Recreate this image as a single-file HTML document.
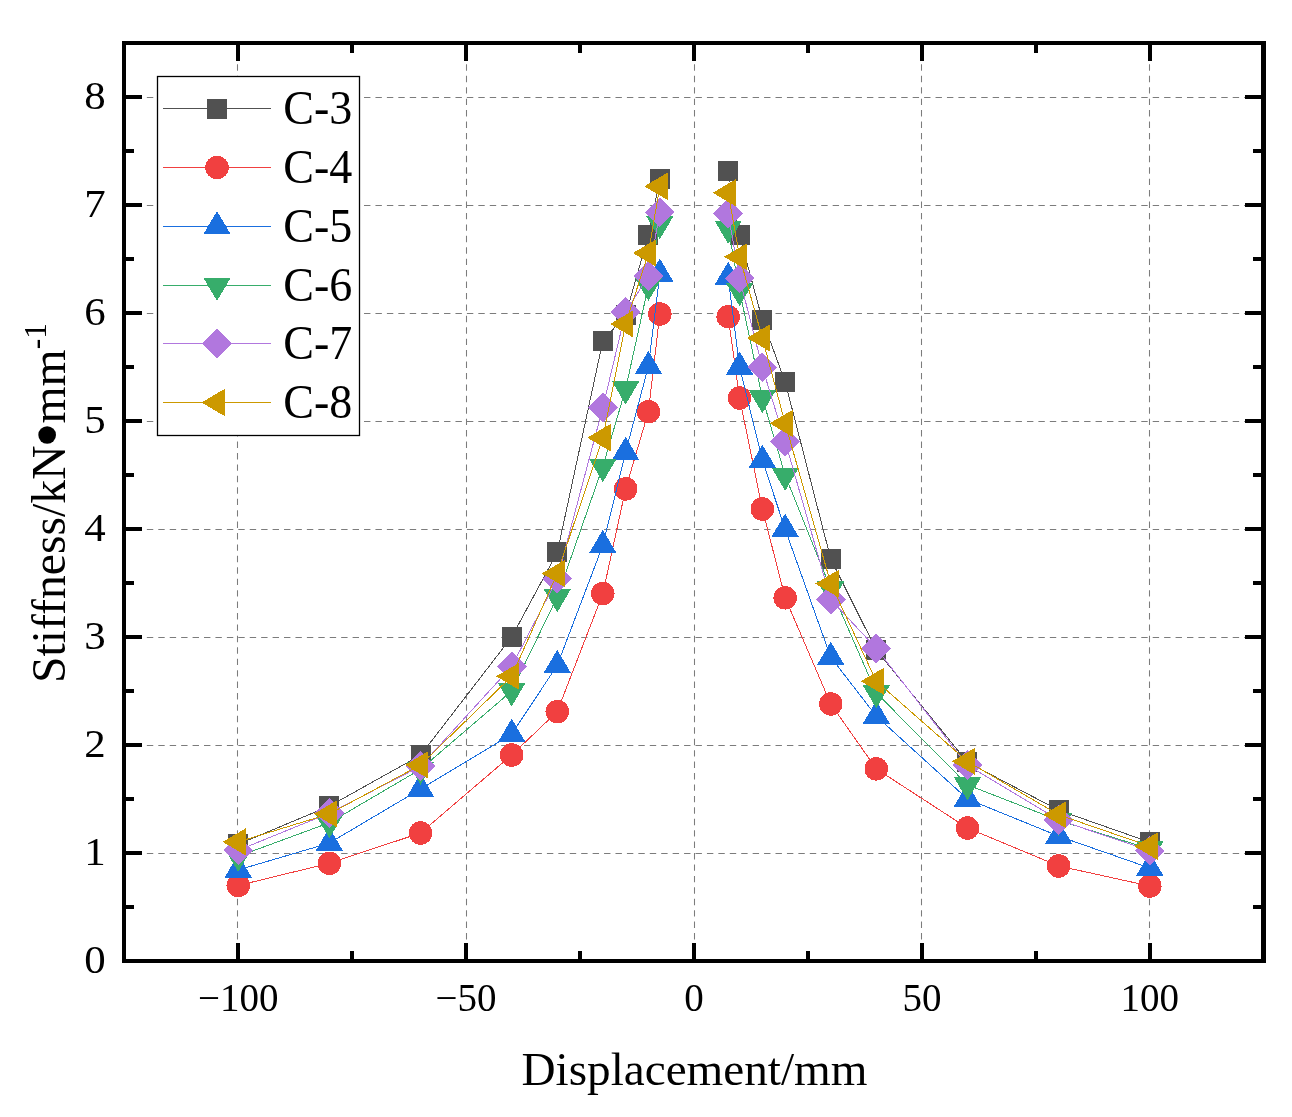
<!DOCTYPE html>
<html><head><meta charset="utf-8"><title>Stiffness vs Displacement</title>
<style>html,body{margin:0;padding:0;background:#fff;}body{width:1292px;height:1117px;overflow:hidden;}svg{display:block;}text{font-family:"Liberation Serif","Times New Roman",serif;fill:#000;}</style>
</head><body>
<svg width="1292" height="1117" viewBox="0 0 1292 1117">
<rect x="0" y="0" width="1292" height="1117" fill="#fff"/>
<path d="M237.5 41.5V961 M466.5 41.5V961 M694.5 41.5V961 M921.5 41.5V961 M1149.5 41.5V961 M124 853.5H1263.5 M124 745.5H1263.5 M124 637.5H1263.5 M124 529.5H1263.5 M124 421.5H1263.5 M124 313.5H1263.5 M124 205.5H1263.5 M124 97.5H1263.5" stroke="#7c7c7c" stroke-width="1.05" stroke-dasharray="6.4 5.03" fill="none"/>
<polyline points="238.2,844.25 329.36,806.13 420.52,755.26 511.68,637 557.26,552.44 602.84,340.97 625.63,315.05 648.42,235.35 659.82,178.97" fill="none" stroke="#515151" stroke-width="1" stroke-linejoin="round" shape-rendering="crispEdges"/>
<polyline points="728.18,171.41 739.58,235.35 762.37,319.91 785.16,381.9 830.74,558.92 876.32,649.96 967.48,762.28 1058.64,810.23 1149.8,842.2" fill="none" stroke="#515151" stroke-width="1" stroke-linejoin="round" shape-rendering="crispEdges"/>
<rect x="228.2" y="834.25" width="20" height="20" fill="#515151" shape-rendering="crispEdges"/>
<rect x="319.36" y="796.13" width="20" height="20" fill="#515151" shape-rendering="crispEdges"/>
<rect x="410.52" y="745.26" width="20" height="20" fill="#515151" shape-rendering="crispEdges"/>
<rect x="501.68" y="627" width="20" height="20" fill="#515151" shape-rendering="crispEdges"/>
<rect x="547.26" y="542.44" width="20" height="20" fill="#515151" shape-rendering="crispEdges"/>
<rect x="592.84" y="330.97" width="20" height="20" fill="#515151" shape-rendering="crispEdges"/>
<rect x="615.63" y="305.05" width="20" height="20" fill="#515151" shape-rendering="crispEdges"/>
<rect x="638.42" y="225.35" width="20" height="20" fill="#515151" shape-rendering="crispEdges"/>
<rect x="649.82" y="168.97" width="20" height="20" fill="#515151" shape-rendering="crispEdges"/>
<rect x="718.18" y="161.41" width="20" height="20" fill="#515151" shape-rendering="crispEdges"/>
<rect x="729.58" y="225.35" width="20" height="20" fill="#515151" shape-rendering="crispEdges"/>
<rect x="752.37" y="309.91" width="20" height="20" fill="#515151" shape-rendering="crispEdges"/>
<rect x="775.16" y="371.9" width="20" height="20" fill="#515151" shape-rendering="crispEdges"/>
<rect x="820.74" y="548.92" width="20" height="20" fill="#515151" shape-rendering="crispEdges"/>
<rect x="866.32" y="639.96" width="20" height="20" fill="#515151" shape-rendering="crispEdges"/>
<rect x="957.48" y="752.28" width="20" height="20" fill="#515151" shape-rendering="crispEdges"/>
<rect x="1048.64" y="800.23" width="20" height="20" fill="#515151" shape-rendering="crispEdges"/>
<rect x="1139.8" y="832.2" width="20" height="20" fill="#515151" shape-rendering="crispEdges"/>
<polyline points="238.2,885.51 329.36,863.26 420.52,833.02 511.68,755.04 557.26,711.63 602.84,593.58 625.63,488.93 648.42,411.71 659.82,313.97" fill="none" stroke="#F14040" stroke-width="1" stroke-linejoin="round" shape-rendering="crispEdges"/>
<polyline points="728.18,316.67 739.58,398 762.37,509.02 785.16,597.8 830.74,703.96 876.32,768.87 967.48,828.05 1058.64,865.96 1149.8,886.05" fill="none" stroke="#F14040" stroke-width="1" stroke-linejoin="round" shape-rendering="crispEdges"/>
<circle cx="238.2" cy="885.51" r="11.75" fill="#F14040" shape-rendering="crispEdges"/>
<circle cx="329.36" cy="863.26" r="11.75" fill="#F14040" shape-rendering="crispEdges"/>
<circle cx="420.52" cy="833.02" r="11.75" fill="#F14040" shape-rendering="crispEdges"/>
<circle cx="511.68" cy="755.04" r="11.75" fill="#F14040" shape-rendering="crispEdges"/>
<circle cx="557.26" cy="711.63" r="11.75" fill="#F14040" shape-rendering="crispEdges"/>
<circle cx="602.84" cy="593.58" r="11.75" fill="#F14040" shape-rendering="crispEdges"/>
<circle cx="625.63" cy="488.93" r="11.75" fill="#F14040" shape-rendering="crispEdges"/>
<circle cx="648.42" cy="411.71" r="11.75" fill="#F14040" shape-rendering="crispEdges"/>
<circle cx="659.82" cy="313.97" r="11.75" fill="#F14040" shape-rendering="crispEdges"/>
<circle cx="728.18" cy="316.67" r="11.75" fill="#F14040" shape-rendering="crispEdges"/>
<circle cx="739.58" cy="398" r="11.75" fill="#F14040" shape-rendering="crispEdges"/>
<circle cx="762.37" cy="509.02" r="11.75" fill="#F14040" shape-rendering="crispEdges"/>
<circle cx="785.16" cy="597.8" r="11.75" fill="#F14040" shape-rendering="crispEdges"/>
<circle cx="830.74" cy="703.96" r="11.75" fill="#F14040" shape-rendering="crispEdges"/>
<circle cx="876.32" cy="768.87" r="11.75" fill="#F14040" shape-rendering="crispEdges"/>
<circle cx="967.48" cy="828.05" r="11.75" fill="#F14040" shape-rendering="crispEdges"/>
<circle cx="1058.64" cy="865.96" r="11.75" fill="#F14040" shape-rendering="crispEdges"/>
<circle cx="1149.8" cy="886.05" r="11.75" fill="#F14040" shape-rendering="crispEdges"/>
<polyline points="238.2,869.96 329.36,843.06 420.52,789.06 511.68,734.2 557.26,665.3 602.84,545.31 625.63,452.21 648.42,366.24 659.82,274.01" fill="none" stroke="#1A6FDF" stroke-width="1" stroke-linejoin="round" shape-rendering="crispEdges"/>
<polyline points="728.18,277.25 739.58,367 762.37,460.1 785.16,529.22 830.74,657.2 876.32,716.16 967.48,799 1058.64,836.15 1149.8,868.01" fill="none" stroke="#1A6FDF" stroke-width="1" stroke-linejoin="round" shape-rendering="crispEdges"/>
<polygon points="238.2,854.42 251.9,877.72 224.5,877.72" fill="#1A6FDF" shape-rendering="crispEdges"/>
<polygon points="329.36,827.53 343.06,850.83 315.66,850.83" fill="#1A6FDF" shape-rendering="crispEdges"/>
<polygon points="420.52,773.53 434.22,796.83 406.82,796.83" fill="#1A6FDF" shape-rendering="crispEdges"/>
<polygon points="511.68,718.67 525.38,741.97 497.98,741.97" fill="#1A6FDF" shape-rendering="crispEdges"/>
<polygon points="557.26,649.76 570.96,673.06 543.56,673.06" fill="#1A6FDF" shape-rendering="crispEdges"/>
<polygon points="602.84,529.77 616.54,553.07 589.14,553.07" fill="#1A6FDF" shape-rendering="crispEdges"/>
<polygon points="625.63,436.68 639.33,459.98 611.93,459.98" fill="#1A6FDF" shape-rendering="crispEdges"/>
<polygon points="648.42,350.71 662.12,374.01 634.72,374.01" fill="#1A6FDF" shape-rendering="crispEdges"/>
<polygon points="659.82,258.48 673.52,281.78 646.12,281.78" fill="#1A6FDF" shape-rendering="crispEdges"/>
<polygon points="728.18,261.72 741.88,285.02 714.48,285.02" fill="#1A6FDF" shape-rendering="crispEdges"/>
<polygon points="739.58,351.47 753.28,374.77 725.88,374.77" fill="#1A6FDF" shape-rendering="crispEdges"/>
<polygon points="762.37,444.56 776.07,467.86 748.67,467.86" fill="#1A6FDF" shape-rendering="crispEdges"/>
<polygon points="785.16,513.68 798.86,536.98 771.46,536.98" fill="#1A6FDF" shape-rendering="crispEdges"/>
<polygon points="830.74,641.66 844.44,664.96 817.04,664.96" fill="#1A6FDF" shape-rendering="crispEdges"/>
<polygon points="876.32,700.63 890.02,723.93 862.62,723.93" fill="#1A6FDF" shape-rendering="crispEdges"/>
<polygon points="967.48,783.47 981.18,806.77 953.78,806.77" fill="#1A6FDF" shape-rendering="crispEdges"/>
<polygon points="1058.64,820.62 1072.34,843.92 1044.94,843.92" fill="#1A6FDF" shape-rendering="crispEdges"/>
<polygon points="1149.8,852.48 1163.5,875.78 1136.1,875.78" fill="#1A6FDF" shape-rendering="crispEdges"/>
<polyline points="238.2,856.35 329.36,822.76 420.52,769.3 511.68,691 557.26,596.82 602.84,466.58 625.63,389.03 648.42,285.46 659.82,223.79" fill="none" stroke="#37AD6B" stroke-width="1" stroke-linejoin="round" shape-rendering="crispEdges"/>
<polyline points="728.18,228.33 739.58,290.64 762.37,397.78 785.16,475.32 830.74,588.83 876.32,692.84 967.48,784.85 1058.64,820.38 1149.8,848.9" fill="none" stroke="#37AD6B" stroke-width="1" stroke-linejoin="round" shape-rendering="crispEdges"/>
<polygon points="224.5,848.58 251.9,848.58 238.2,871.88" fill="#37AD6B" shape-rendering="crispEdges"/>
<polygon points="315.66,814.99 343.06,814.99 329.36,838.29" fill="#37AD6B" shape-rendering="crispEdges"/>
<polygon points="406.82,761.53 434.22,761.53 420.52,784.83" fill="#37AD6B" shape-rendering="crispEdges"/>
<polygon points="497.98,683.23 525.38,683.23 511.68,706.53" fill="#37AD6B" shape-rendering="crispEdges"/>
<polygon points="543.56,589.06 570.96,589.06 557.26,612.36" fill="#37AD6B" shape-rendering="crispEdges"/>
<polygon points="589.14,458.81 616.54,458.81 602.84,482.11" fill="#37AD6B" shape-rendering="crispEdges"/>
<polygon points="611.93,381.27 639.33,381.27 625.63,404.57" fill="#37AD6B" shape-rendering="crispEdges"/>
<polygon points="634.72,277.69 662.12,277.69 648.42,300.99" fill="#37AD6B" shape-rendering="crispEdges"/>
<polygon points="646.12,216.03 673.52,216.03 659.82,239.33" fill="#37AD6B" shape-rendering="crispEdges"/>
<polygon points="714.48,220.56 741.88,220.56 728.18,243.86" fill="#37AD6B" shape-rendering="crispEdges"/>
<polygon points="725.88,282.88 753.28,282.88 739.58,306.18" fill="#37AD6B" shape-rendering="crispEdges"/>
<polygon points="748.67,390.01 776.07,390.01 762.37,413.31" fill="#37AD6B" shape-rendering="crispEdges"/>
<polygon points="771.46,467.56 798.86,467.56 785.16,490.86" fill="#37AD6B" shape-rendering="crispEdges"/>
<polygon points="817.04,581.07 844.44,581.07 830.74,604.37" fill="#37AD6B" shape-rendering="crispEdges"/>
<polygon points="862.62,685.07 890.02,685.07 876.32,708.37" fill="#37AD6B" shape-rendering="crispEdges"/>
<polygon points="953.78,777.09 981.18,777.09 967.48,800.39" fill="#37AD6B" shape-rendering="crispEdges"/>
<polygon points="1044.94,812.62 1072.34,812.62 1058.64,835.92" fill="#37AD6B" shape-rendering="crispEdges"/>
<polygon points="1136.1,841.13 1163.5,841.13 1149.8,864.43" fill="#37AD6B" shape-rendering="crispEdges"/>
<polyline points="238.2,850.3 329.36,813.15 420.52,766.28 511.68,666.48 557.26,578.79 602.84,407.61 625.63,311.92 648.42,276.17 659.82,212.13" fill="none" stroke="#B177DE" stroke-width="1" stroke-linejoin="round" shape-rendering="crispEdges"/>
<polyline points="728.18,213.42 739.58,278.44 762.37,367.43 785.16,441.41 830.74,599.52 876.32,648.45 967.48,765.2 1058.64,819.84 1149.8,850.84" fill="none" stroke="#B177DE" stroke-width="1" stroke-linejoin="round" shape-rendering="crispEdges"/>
<polygon points="238.2,835.4 253.1,850.3 238.2,865.2 223.3,850.3" fill="#B177DE" shape-rendering="crispEdges"/>
<polygon points="329.36,798.25 344.26,813.15 329.36,828.05 314.46,813.15" fill="#B177DE" shape-rendering="crispEdges"/>
<polygon points="420.52,751.38 435.42,766.28 420.52,781.18 405.62,766.28" fill="#B177DE" shape-rendering="crispEdges"/>
<polygon points="511.68,651.58 526.58,666.48 511.68,681.38 496.78,666.48" fill="#B177DE" shape-rendering="crispEdges"/>
<polygon points="557.26,563.89 572.16,578.79 557.26,593.69 542.36,578.79" fill="#B177DE" shape-rendering="crispEdges"/>
<polygon points="602.84,392.71 617.74,407.61 602.84,422.51 587.94,407.61" fill="#B177DE" shape-rendering="crispEdges"/>
<polygon points="625.63,297.02 640.53,311.92 625.63,326.82 610.73,311.92" fill="#B177DE" shape-rendering="crispEdges"/>
<polygon points="648.42,261.27 663.32,276.17 648.42,291.07 633.52,276.17" fill="#B177DE" shape-rendering="crispEdges"/>
<polygon points="659.82,197.23 674.72,212.13 659.82,227.03 644.92,212.13" fill="#B177DE" shape-rendering="crispEdges"/>
<polygon points="728.18,198.52 743.08,213.42 728.18,228.32 713.28,213.42" fill="#B177DE" shape-rendering="crispEdges"/>
<polygon points="739.58,263.54 754.48,278.44 739.58,293.34 724.68,278.44" fill="#B177DE" shape-rendering="crispEdges"/>
<polygon points="762.37,352.53 777.27,367.43 762.37,382.33 747.47,367.43" fill="#B177DE" shape-rendering="crispEdges"/>
<polygon points="785.16,426.51 800.06,441.41 785.16,456.31 770.26,441.41" fill="#B177DE" shape-rendering="crispEdges"/>
<polygon points="830.74,584.62 845.64,599.52 830.74,614.42 815.84,599.52" fill="#B177DE" shape-rendering="crispEdges"/>
<polygon points="876.32,633.55 891.22,648.45 876.32,663.35 861.42,648.45" fill="#B177DE" shape-rendering="crispEdges"/>
<polygon points="967.48,750.3 982.38,765.2 967.48,780.1 952.58,765.2" fill="#B177DE" shape-rendering="crispEdges"/>
<polygon points="1058.64,804.94 1073.54,819.84 1058.64,834.74 1043.74,819.84" fill="#B177DE" shape-rendering="crispEdges"/>
<polygon points="1149.8,835.94 1164.7,850.84 1149.8,865.74 1134.9,850.84" fill="#B177DE" shape-rendering="crispEdges"/>
<polyline points="238.2,841.88 329.36,813.9 420.52,764.98 511.68,676.31 557.26,573.5 602.84,437.63 625.63,324.02 648.42,253.06 659.82,186.32" fill="none" stroke="#CC9900" stroke-width="1" stroke-linejoin="round" shape-rendering="crispEdges"/>
<polyline points="728.18,192.8 739.58,256.73 762.37,337.95 785.16,423.38 830.74,583.65 876.32,681.28 967.48,761.42 1058.64,814.77 1149.8,846.2" fill="none" stroke="#CC9900" stroke-width="1" stroke-linejoin="round" shape-rendering="crispEdges"/>
<polygon points="222.67,841.88 245.97,828.18 245.97,855.58" fill="#CC9900" shape-rendering="crispEdges"/>
<polygon points="313.83,813.9 337.13,800.2 337.13,827.6" fill="#CC9900" shape-rendering="crispEdges"/>
<polygon points="404.99,764.98 428.29,751.28 428.29,778.68" fill="#CC9900" shape-rendering="crispEdges"/>
<polygon points="496.15,676.31 519.45,662.61 519.45,690.01" fill="#CC9900" shape-rendering="crispEdges"/>
<polygon points="541.73,573.5 565.03,559.8 565.03,587.2" fill="#CC9900" shape-rendering="crispEdges"/>
<polygon points="587.31,437.63 610.61,423.93 610.61,451.33" fill="#CC9900" shape-rendering="crispEdges"/>
<polygon points="610.1,324.02 633.4,310.32 633.4,337.72" fill="#CC9900" shape-rendering="crispEdges"/>
<polygon points="632.89,253.06 656.19,239.36 656.19,266.76" fill="#CC9900" shape-rendering="crispEdges"/>
<polygon points="644.28,186.32 667.58,172.62 667.58,200.02" fill="#CC9900" shape-rendering="crispEdges"/>
<polygon points="712.65,192.8 735.95,179.1 735.95,206.5" fill="#CC9900" shape-rendering="crispEdges"/>
<polygon points="724.05,256.73 747.35,243.03 747.35,270.43" fill="#CC9900" shape-rendering="crispEdges"/>
<polygon points="746.84,337.95 770.14,324.25 770.14,351.65" fill="#CC9900" shape-rendering="crispEdges"/>
<polygon points="769.63,423.38 792.93,409.68 792.93,437.08" fill="#CC9900" shape-rendering="crispEdges"/>
<polygon points="815.21,583.65 838.51,569.95 838.51,597.35" fill="#CC9900" shape-rendering="crispEdges"/>
<polygon points="860.79,681.28 884.09,667.58 884.09,694.98" fill="#CC9900" shape-rendering="crispEdges"/>
<polygon points="951.95,761.42 975.25,747.72 975.25,775.12" fill="#CC9900" shape-rendering="crispEdges"/>
<polygon points="1043.11,814.77 1066.41,801.07 1066.41,828.47" fill="#CC9900" shape-rendering="crispEdges"/>
<polygon points="1134.27,846.2 1157.57,832.5 1157.57,859.9" fill="#CC9900" shape-rendering="crispEdges"/>
<path d="M238 959v-16 M238 45v16 M466 959v-16 M466 45v16 M694 959v-16 M694 45v16 M922 959v-16 M922 45v16 M1150 959v-16 M1150 45v16 M352 959v-8 M352 45v8 M580 959v-8 M580 45v8 M808 959v-8 M808 45v8 M1036 959v-8 M1036 45v8 M126 961h16 M1261 961h-16 M126 853h16 M1261 853h-16 M126 745h16 M1261 745h-16 M126 637h16 M1261 637h-16 M126 529h16 M1261 529h-16 M126 421h16 M1261 421h-16 M126 313h16 M1261 313h-16 M126 205h16 M1261 205h-16 M126 97h16 M1261 97h-16 M126 907h8 M1261 907h-8 M126 799h8 M1261 799h-8 M126 691h8 M1261 691h-8 M126 583h8 M1261 583h-8 M126 475h8 M1261 475h-8 M126 367h8 M1261 367h-8 M126 259h8 M1261 259h-8 M126 151h8 M1261 151h-8 M126 43h8 M1261 43h-8" stroke="#000" stroke-width="4" fill="none"/>
<path d="M122 43H1266M122 961H1266M124 41V963" stroke="#000" stroke-width="4" fill="none"/>
<path d="M1263.5 41V963" stroke="#000" stroke-width="5" fill="none"/>
<text transform="translate(105.6,972.8) scale(1.1,1)" font-size="39" text-anchor="end">0</text>
<text transform="translate(105.6,864.8) scale(1.1,1)" font-size="39" text-anchor="end">1</text>
<text transform="translate(105.6,756.8) scale(1.1,1)" font-size="39" text-anchor="end">2</text>
<text transform="translate(105.6,648.8) scale(1.1,1)" font-size="39" text-anchor="end">3</text>
<text transform="translate(105.6,540.8) scale(1.1,1)" font-size="39" text-anchor="end">4</text>
<text transform="translate(105.6,432.8) scale(1.1,1)" font-size="39" text-anchor="end">5</text>
<text transform="translate(105.6,324.8) scale(1.1,1)" font-size="39" text-anchor="end">6</text>
<text transform="translate(105.6,216.8) scale(1.1,1)" font-size="39" text-anchor="end">7</text>
<text transform="translate(105.6,108.8) scale(1.1,1)" font-size="39" text-anchor="end">8</text>
<text x="238.2" y="1011" font-size="39" text-anchor="middle">−100</text>
<text x="466.1" y="1011" font-size="39" text-anchor="middle">−50</text>
<text x="694" y="1011" font-size="39" text-anchor="middle">0</text>
<text x="921.9" y="1011" font-size="39" text-anchor="middle">50</text>
<text x="1149.8" y="1011" font-size="39" text-anchor="middle">100</text>
<text x="694.5" y="1085" font-size="47.2" text-anchor="middle">Displacement/mm</text>
<text transform="translate(64.5,503) rotate(-90)" font-size="47.7" text-anchor="middle">Stiffness/kN<tspan font-size="73" dx="-2.25" dy="7.8">•</tspan><tspan dx="-1.45" dy="-7.8">mm</tspan><tspan font-size="31.5" dy="-19">-1</tspan></text>
<rect x="157.5" y="76.5" width="202" height="359" fill="#fff" stroke="#000" stroke-width="1.3"/>
<path d="M163 108.5H271" stroke="#515151" stroke-width="1" shape-rendering="crispEdges"/>
<rect x="207" y="98.5" width="20" height="20" fill="#515151" shape-rendering="crispEdges"/>
<text transform="translate(283.3,124.2) scale(0.94,1)" font-size="49">C-3</text>
<path d="M163 167.5H271" stroke="#F14040" stroke-width="1" shape-rendering="crispEdges"/>
<circle cx="217" cy="167.5" r="11.75" fill="#F14040" shape-rendering="crispEdges"/>
<text transform="translate(283.3,183.2) scale(0.94,1)" font-size="49">C-4</text>
<path d="M163 226.5H271" stroke="#1A6FDF" stroke-width="1" shape-rendering="crispEdges"/>
<polygon points="217,210.97 230.7,234.27 203.3,234.27" fill="#1A6FDF" shape-rendering="crispEdges"/>
<text transform="translate(283.3,242.2) scale(0.94,1)" font-size="49">C-5</text>
<path d="M163 285.5H271" stroke="#37AD6B" stroke-width="1" shape-rendering="crispEdges"/>
<polygon points="203.3,277.73 230.7,277.73 217,301.03" fill="#37AD6B" shape-rendering="crispEdges"/>
<text transform="translate(283.3,301.2) scale(0.94,1)" font-size="49">C-6</text>
<path d="M163 343.5H271" stroke="#B177DE" stroke-width="1" shape-rendering="crispEdges"/>
<polygon points="217,328.6 231.9,343.5 217,358.4 202.1,343.5" fill="#B177DE" shape-rendering="crispEdges"/>
<text transform="translate(283.3,359.2) scale(0.94,1)" font-size="49">C-7</text>
<path d="M163 402.5H271" stroke="#CC9900" stroke-width="1" shape-rendering="crispEdges"/>
<polygon points="201.47,402.5 224.77,388.8 224.77,416.2" fill="#CC9900" shape-rendering="crispEdges"/>
<text transform="translate(283.3,418.2) scale(0.94,1)" font-size="49">C-8</text>
</svg>
</body></html>
